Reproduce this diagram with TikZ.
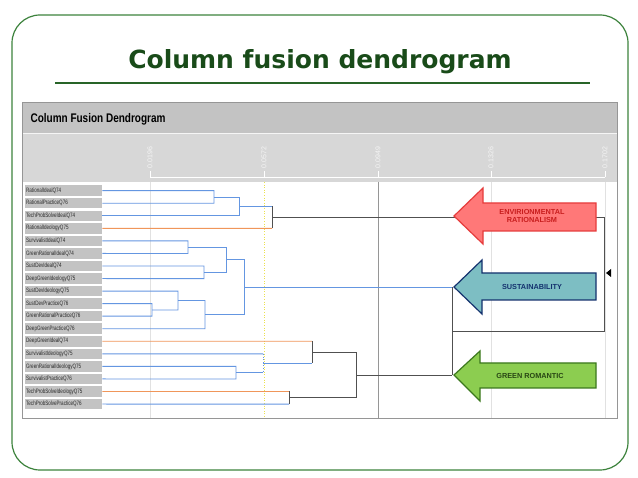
\documentclass[tikz,border=0pt]{standalone}
\usepackage{fontspec}
\setmainfont{Liberation Sans}
\newfontfamily\ttlfont{DejaVu Sans}
\definecolor{cbl}{RGB}{100,150,225}
\definecolor{cog}{RGB}{240,150,90}
\definecolor{cdk}{RGB}{80,80,80}
\definecolor{clab}{RGB}{195,195,195}
\definecolor{caxis}{RGB}{215,215,215}
\definecolor{cltxt}{RGB}{40,40,40}
\definecolor{ctick}{RGB}{245,245,245}
\definecolor{cframe}{RGB}{60,130,60}
\definecolor{cttl}{RGB}{25,75,25}
\definecolor{cul}{RGB}{40,100,40}
\definecolor{cpb}{RGB}{150,150,150}
\definecolor{cgl}{RGB}{225,225,225}
\definecolor{cyl}{RGB}{235,225,80}
\definecolor{credd}{RGB}{230,60,60}
\definecolor{credf}{RGB}{255,120,120}
\definecolor{credt}{RGB}{200,30,30}
\definecolor{cblud}{RGB}{20,50,110}
\definecolor{cbluf}{RGB}{125,190,195}
\definecolor{cgrd}{RGB}{60,120,30}
\definecolor{cgrf}{RGB}{140,205,80}
\definecolor{cgrt}{RGB}{40,70,20}
\begin{document}
\begin{tikzpicture}[x=1pt,y=-1pt,
  bl/.style={draw=cbl,line width=0.9pt},
  og/.style={draw=cog,line width=0.9pt},
  dk/.style={draw=cdk,line width=0.6pt},
  lab/.style={fill=clab,minimum width=77pt,text width=75pt,minimum height=10.5pt,inner sep=1pt,font=\fontsize{6.3}{7}\selectfont\addfontfeatures{FakeStretch=0.72},text=cltxt,anchor=west,align=left},
  tick/.style={rotate=90,font=\fontsize{7}{8}\selectfont,text=ctick,anchor=west},
  arr/.style={line width=1.2pt,line join=miter},
  atext/.style={font=\bfseries\fontsize{7.3}{8.5}\selectfont,align=center}]
\useasboundingbox (0,0) rectangle (638,478);
% frame
\draw[draw=cframe,line width=1.2pt,rounded corners=28pt] (12,15) rectangle (628,470);
\node[font=\ttlfont\bfseries\fontsize{25}{29}\selectfont,text=cttl] (title) at (320,62) {Column fusion dendrogram};
\draw[draw=cul,line width=1.2pt] (55,83) -- (590,83);
% panel
\fill[white] (22,102) rectangle (617,418);
\fill[clab] (22,102) rectangle (617,133);
\fill[caxis] (22,133) rectangle (617,182);
\draw[ctick,line width=0.4pt] (22,133) -- (617,133);
\draw[cpb,line width=0.6pt] (22,102) rectangle (617,418);
\node[anchor=west,font=\bfseries\fontsize{12.5}{14}\selectfont\addfontfeatures{FakeStretch=0.8}] (ptitle) at (27,119) {Column Fusion Dendrogram};
% axis
\draw[white,line width=0.8pt] (150,177) -- (605,177);
\foreach \x/\t in {150/0.0196,264/0.0572,378/0.0949,491/0.1326,605/0.1702}{
  \draw[white,line width=0.8pt] (\x,171) -- (\x,177);
  \node[tick] at (\x,172) {\t};
}
% gridlines
\draw[cgl,line width=0.4pt] (150,182) -- (150,418) (491,182) -- (491,418) (605,182) -- (605,418);
\draw[cyl,dotted,line width=0.6pt] (264,182) -- (264,418);
\draw[cpb,line width=0.5pt] (378,182) -- (378,418);
% labels
\foreach \i/\t in {0/RationalIdealQ74,1/RationalPracticeQ76,2/TechProbSolveIdealQ74,3/RationalIdeologyQ75,4/SurvivalistIdealQ74,5/GreenRationalIdealQ74,6/SustDevIdealQ74,7/DeepGreenIdeologyQ75,8/SustDevIdeologyQ75,9/SustDevPracticeQ76,10/GreenRationalPracticeQ76,11/DeepGreenPracticeQ76,12/DeepGreenIdealQ74,13/SurvivalistIdeologyQ75,14/GreenRationalIdeologyQ75,15/SurvivalistPracticeQ76,16/TechProbSolveIdeologyQ75,17/TechProbSolvePracticeQ76}{
  \node[lab] (l\i) at (25,190.7+12.55*\i) {\t};
}
% group A
\path[bl] (l0.east) -- (214,190.7) -- (214,203.3) -- (l1.east);
\path[bl] (214,197) -- (239,197) -- (239,215.8) -- (l2.east);
\path[bl] (239,206.4) -- (272,206.4);
\path[og] (l3.east) -- (272,228.4);
\path[dk] (272,206.4) -- (272,228.4);
\path[dk] (272,217.4) -- (604,217.4);
% group B
\path[bl] (l4.east) -- (188,240.9) -- (188,253.5) -- (l5.east);
\path[bl] (l6.east) -- (204,266) -- (204,278.6) -- (l7.east);
\path[bl] (188,247.2) -- (226,247.2) -- (226,272.3) -- (204,272.3);
\path[bl] (l9.east) -- (152,303.7) -- (152,316.2) -- (l10.east);
\path[bl] (l8.east) -- (178,291.1) -- (178,310) -- (152,310);
\path[bl] (178,300.5) -- (205,300.5) -- (205,328.8) -- (l11.east);
\path[bl] (226,259.8) -- (244,259.8) -- (244,314.7) -- (205,314.7);
\path[bl] (244,287.2) -- (452,287.2);
% group C
\path[bl] (l14.east) -- (236,366.4) -- (236,379) -- (l15.east);
\path[bl] (l13.east) -- (263,353.9);
\draw[cbl,dotted,line width=0.8pt] (263,353.9) -- (263,372.7);
\path[bl] (236,372.7) -- (263,372.7);
\path[bl] (263,363.3) -- (312,363.3);
\path[og] (l12.east) -- (312,341.3);
\path[dk] (312,341.3) -- (312,363.3);
\path[og] (l16.east) -- (289,391.5);
\path[bl] (l17.east) -- (289,404.1);
\path[dk] (289,391.5) -- (289,404.1);
\path[dk] (312,352.3) -- (356,352.3) -- (356,397.8) -- (289,397.8);
\path[dk] (356,375) -- (452,375);
\path[dk] (452,287.2) -- (452,375);
\path[dk] (452,331) -- (604,331) -- (604,217.4);
\fill[black] (606,273) -- (611,269) -- (611,277) -- cycle;
% arrows
\path[arr,draw=credd,fill=credf] (454,216) -- (483,188) -- (483,203) -- (596,203) -- (596,231) -- (483,231) -- (483,244) -- cycle;
\node[atext,text=credt] (er) at (532,216) {ENVIRIONMENTAL\\RATIONALISM};
\path[arr,draw=cblud,fill=cbluf] (454,287) -- (482,260) -- (482,273) -- (596,273) -- (596,300) -- (482,300) -- (482,314) -- cycle;
\node[atext,text=cblud] (su) at (532,287) {SUSTAINABILITY};
\path[arr,draw=cgrd,fill=cgrf] (454,375) -- (480,351) -- (480,363) -- (596,363) -- (596,388) -- (480,388) -- (480,401) -- cycle;
\node[atext,text=cgrt] (gr) at (530,376) {GREEN ROMANTIC};
\end{tikzpicture}
\end{document}
